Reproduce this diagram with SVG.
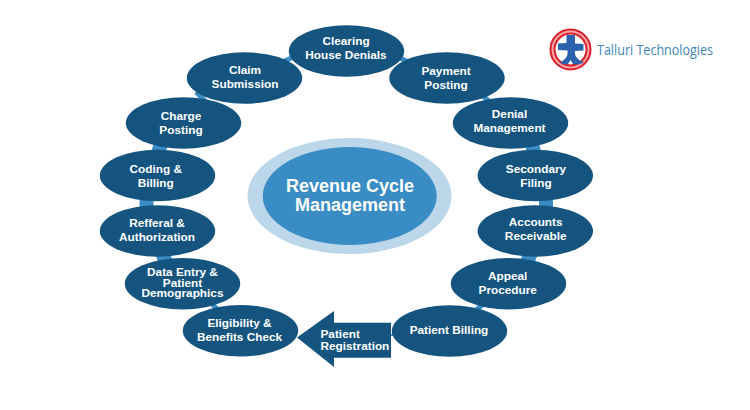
<svg xmlns="http://www.w3.org/2000/svg" width="750" height="410" viewBox="0 0 750 410">
<style>
.n{fill:#14547e}
.t{font-family:"Liberation Sans",Arial,sans-serif;font-weight:700;font-size:11.800px;fill:#fff;text-anchor:middle}
.h{font-family:"Liberation Sans",Arial,sans-serif;font-weight:700;font-size:18px;fill:#fff;text-anchor:middle}
.c{stroke:#3a8cc4;stroke-width:14;fill:none}
.s{stroke-width:5}
</style>
<rect width="750" height="410" fill="#fff"/>
<g id="connectors">
<line class="c" x1="161" y1="144" x2="157" y2="156"/>
<line class="c" x1="146.500" y1="196" x2="146.500" y2="210"/>
<line class="c" x1="162" y1="252" x2="166" y2="263"/>
<line class="c s" x1="208" y1="300" x2="220" y2="312"/>
<line class="c s" x1="206" y1="102" x2="196" y2="92"/>
<line class="c s" x1="280" y1="63" x2="296" y2="56"/>
<line class="c s" x1="396" y1="56" x2="410" y2="63"/>
<line class="c s" x1="478" y1="92" x2="490" y2="102"/>
<line class="c" x1="532" y1="144" x2="535" y2="156"/>
<line class="c" x1="546" y1="196" x2="546" y2="210"/>
<line class="c" x1="531" y1="252" x2="527" y2="263"/>
<line class="c s" x1="488" y1="300" x2="474" y2="312"/>
<line class="c s" x1="388" y1="335" x2="396" y2="335" style="stroke-width:2"/>
</g>
<g id="center">
<ellipse cx="349.500" cy="196" rx="102" ry="58" fill="#bcd7ea"/>
<ellipse cx="349.700" cy="196" rx="87" ry="49" fill="#3a8cc4"/>
<text class="h" x="350" y="192">Revenue Cycle</text>
<text class="h" x="350" y="211">Management</text>
</g>
<g id="clearing"><ellipse class="n" cx="346.500" cy="51" rx="57.700" ry="25.700"/><text class="t" x="346" y="45">Clearing</text><text class="t" x="346" y="59">House Denials</text></g>
<g id="payment"><ellipse class="n" cx="447" cy="78" rx="57.700" ry="25.700"/><text class="t" x="446" y="75">Payment</text><text class="t" x="446" y="89">Posting</text></g>
<g id="denial"><ellipse class="n" cx="510.500" cy="123" rx="57.700" ry="25.700"/><text class="t" x="509.500" y="118">Denial</text><text class="t" x="509.500" y="132">Management</text></g>
<g id="secondary"><ellipse class="n" cx="535.300" cy="175.500" rx="57.700" ry="25.700"/><text class="t" x="536" y="173">Secondary</text><text class="t" x="536" y="187">Filing</text></g>
<g id="accounts"><ellipse class="n" cx="535.300" cy="231" rx="57.700" ry="25.700"/><text class="t" x="535.700" y="226">Accounts</text><text class="t" x="535.700" y="240">Receivable</text></g>
<g id="appeal"><ellipse class="n" cx="508.500" cy="283.700" rx="57.700" ry="25.700"/><text class="t" x="507.700" y="280">Appeal</text><text class="t" x="507.700" y="294">Procedure</text></g>
<g id="billing"><ellipse class="n" cx="449.500" cy="331" rx="57.700" ry="25.700"/><text class="t" x="449" y="334">Patient Billing</text></g>
<g id="registration"><polygon class="n" points="297,337.500 334,311 334,322.700 391,322.700 391,357.700 334,357.700 334,367"/><text class="t" x="320.500" y="337.500" style="text-anchor:start">Patient</text><text class="t" x="320.500" y="350" style="text-anchor:start">Registration</text></g>
<g id="eligibility"><ellipse class="n" cx="240.500" cy="330.700" rx="57.700" ry="25.700"/><text class="t" x="239.500" y="327">Eligibility &amp;</text><text class="t" x="239.500" y="341">Benefits Check</text></g>
<g id="dataentry"><ellipse class="n" cx="182.500" cy="283.700" rx="57.700" ry="25.700"/><text class="t" x="182.500" y="275.700">Data Entry &amp;</text><text class="t" x="182.500" y="286.500">Patient</text><text class="t" x="182.500" y="297.300">Demographics</text></g>
<g id="referral"><ellipse class="n" cx="157.500" cy="231" rx="57.700" ry="25.700"/><text class="t" x="157" y="227">Refferal &amp;</text><text class="t" x="157" y="241">Authorization</text></g>
<g id="coding"><ellipse class="n" cx="157.500" cy="175.500" rx="57.700" ry="25.700"/><text class="t" x="155.700" y="173">Coding &amp;</text><text class="t" x="155.700" y="187">Billing</text></g>
<g id="charge"><ellipse class="n" cx="183.500" cy="123" rx="57.700" ry="25.700"/><text class="t" x="181" y="120">Charge</text><text class="t" x="181" y="134">Posting</text></g>
<g id="claim"><ellipse class="n" cx="244.500" cy="78" rx="57.700" ry="25.700"/><text class="t" x="245" y="74">Claim</text><text class="t" x="245" y="88">Submission</text></g>
<g id="logo">
<circle cx="570.500" cy="49.500" r="18" fill="#fff" stroke="#f2a6a8" stroke-width="5"/>
<circle cx="570.500" cy="49.500" r="20" fill="none" stroke="#dc1f2a" stroke-width="2"/>
<circle cx="570.500" cy="49.500" r="16" fill="none" stroke="#dc1f2a" stroke-width="2"/>
<path d="M566.500 35h8.500v8.500l8.500 .5v6.500l-8.500 .5 0 3c1 4 5 7 9 8.500-3 1.500-8 2.500-11 1.500l-2.500-4-2.500 4c-3 1-6 0-8-1.500 4-2 7-5 7.500-8.500l0-3.500-9.500 -.5v-6.500l8.500-.5z" fill="#2a62ae"/>
<text x="597" y="55" font-family="Open Sans,Liberation Sans,sans-serif" font-size="14.500" fill="#3d86b5" textLength="116" lengthAdjust="spacingAndGlyphs">Talluri Technologies</text>
</g>
</svg>
